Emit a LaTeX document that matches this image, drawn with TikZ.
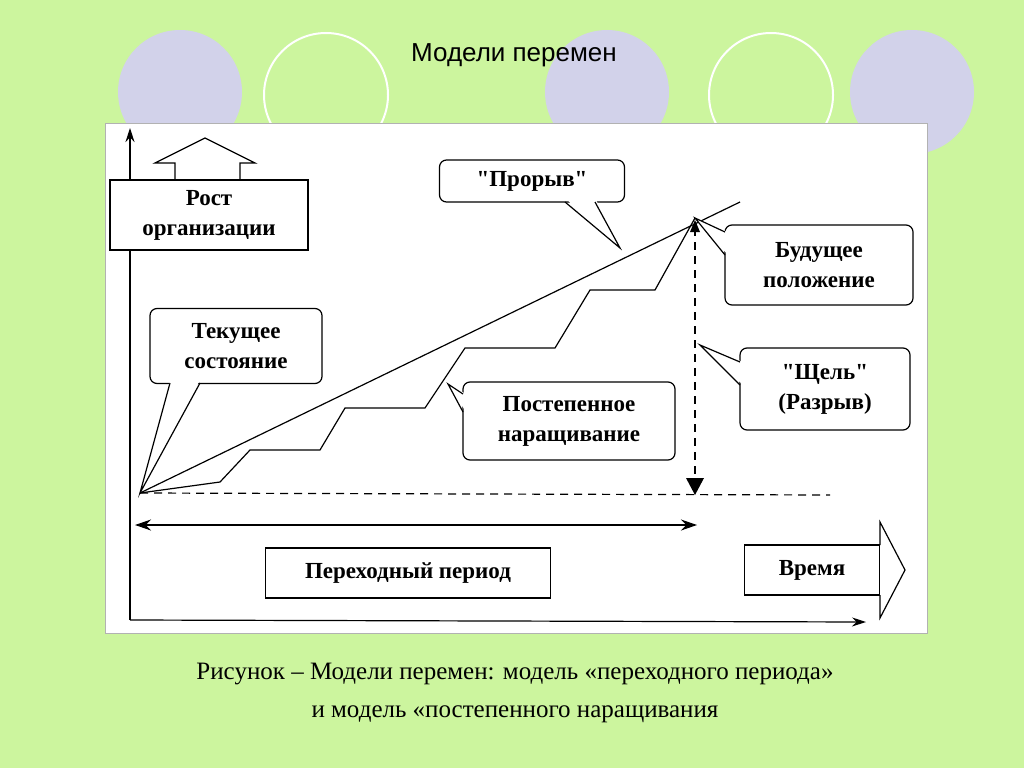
\documentclass[tikz,border=0pt]{standalone}
\usepackage{fontspec}
\setmainfont{Liberation Serif}[Ligatures=TeXOff]
\newfontfamily\titlefont{Liberation Sans}
\usetikzlibrary{calc, arrows.meta}
\definecolor{bggreen}{HTML}{CCF59E}
\definecolor{lav}{HTML}{D2D2EA}
\tikzset{
  label box/.style={draw, fill=white, rounded corners=7pt, align=center,
    font=\bfseries\fontsize{23}{30}\selectfont, inner sep=6pt},
  plain box/.style={draw, fill=white, align=center,
    font=\bfseries\fontsize{23}{30}\selectfont},
  long dash/.style={dash pattern=on 8pt off 6pt},
}
\begin{document}
\begin{tikzpicture}[x=1pt, y=-1pt, line width=1.2pt]
\useasboundingbox (0,0) rectangle (1024,768);
\fill[bggreen] (0,0) rectangle (1024,768);
% circles
\fill[lav] (180,92) circle (62);
\draw[white, line width=2pt] (326,95) circle (62);
\fill[lav] (607,92) circle (62);
\draw[white, line width=2pt] (771,95) circle (62);
\fill[lav] (912,92) circle (62);
\node[font=\titlefont\fontsize{26}{30}\selectfont] (title) at (514,55) {Модели перемен};
% panel
\fill[white] (105,123) rectangle (927,633);
\draw[line width=0.6pt, gray!60] (105,123) rectangle (927,633);
% axes
\coordinate (o) at (130,620);
\draw[-{Stealth[length=14pt,width=9pt]}] (o) -- (130,128);
\draw[-{Stealth[length=14pt,width=9pt]}] (o) -- (866,622);
% growth arrow
\node[plain box, minimum width=198pt, minimum height=70pt] (rost) at (209,215) {Рост\\организации};
\draw (175,180) -- (175,163) -- (155,163) -- (205,138) -- (255,163) -- (240,163) -- (240,180);
% time arrow
\node[plain box, minimum width=135pt, minimum height=50pt] (vremya) at (812,570) {Время};
\draw (880,545) -- (880,522) -- (905,570) -- (880,618) -- (880,595);
\node[plain box, minimum width=285pt, minimum height=50pt] (period) at (408,573) {Переходный период};
% lines
\coordinate (start) at (140,493);
\coordinate (goal) at (695,218);
\draw[{Stealth[length=16pt,width=11pt]}-{Stealth[length=16pt,width=11pt]}] (135,525) -- (697,525);
\draw[long dash] (start) -- (830,495);
\draw[long dash] (695,228) -- (695,480);
\fill (695,495) -- (686,478) -- (704,478) -- cycle;
\fill (695,220) -- (690,232) -- (700,232) -- cycle;
\draw (start) -- (740,202);
\draw (start) -- (220,482) -- (250,450) -- (320,450) -- (345,408) -- (425,408)
  -- (465,348) -- (555,348) -- (590,290) -- (655,290) -- (goal);
% callouts
\node[label box, minimum width=172pt, minimum height=75pt] (current) at (236,346) {Текущее\\состояние};
\fill[white] (170,380) -- (start) -- (200,380) -- cycle;
\draw (170,383) -- (start) -- (200,383);
\node[label box, minimum width=185pt, minimum height=42pt] (proryv) at (532,181) {"Прорыв"};
\fill[white] (565,198) -- (620,248) -- (595,198) -- cycle;
\draw (565,202) -- (620,248) -- (595,202);
\node[label box, minimum width=188pt, minimum height=80pt] (future) at (819,265) {Будущее\\положение};
\fill[white] (728,232) -- (goal) -- (728,255) -- cycle;
\draw (725,232) -- (goal) -- (725,255);
\node[label box, minimum width=170pt, minimum height=82pt] (gap) at (825,389) {"Щель"\\(Разрыв)};
\fill[white] (743,362) -- (700,345) -- (743,385) -- cycle;
\draw (740,362) -- (700,345) -- (740,385);
\node[label box, minimum width=212pt, minimum height=78pt] (steps) at (569,421) {Постепенное\\наращивание};
\fill[white] (466,394) -- (448,384) -- (466,412) -- cycle;
\draw (463,394) -- (448,384) -- (463,412);
% caption
\node[align=center, font=\fontsize{25}{38}\selectfont] (caption) at (515,693)
  {Рисунок – Модели перемен: модель «переходного периода»\\и модель «постепенного наращивания};
\end{tikzpicture}
\end{document}
